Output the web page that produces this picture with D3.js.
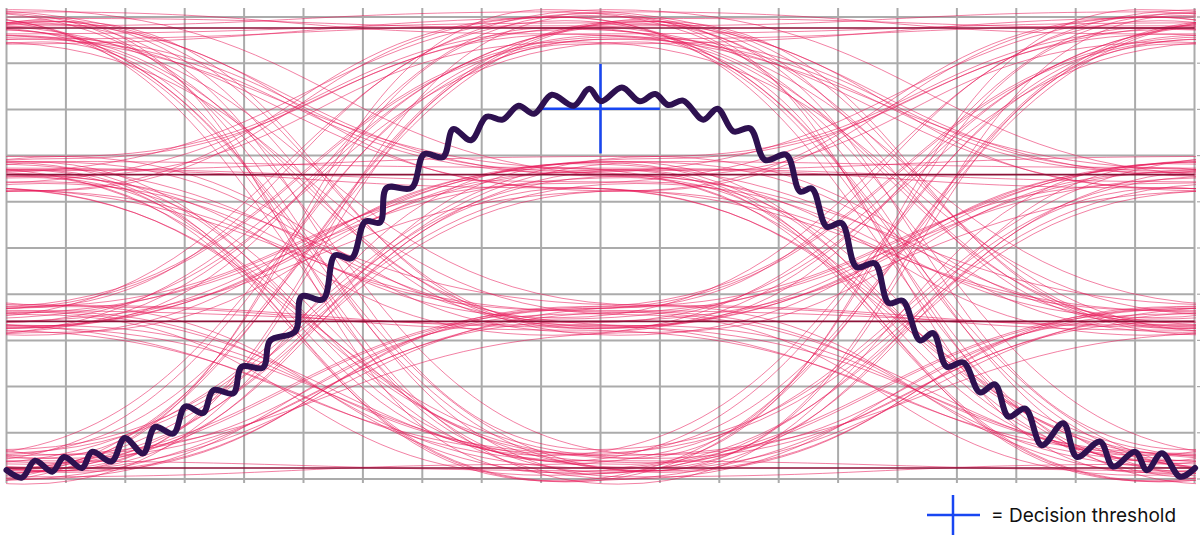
<!DOCTYPE html>
<html>
<head>
<meta charset="utf-8">
<script src="https://cdn.jsdelivr.net/npm/d3@7"></script>
<style>
  body { margin: 0; background: #fff; }
  svg { display: block; }
</style>
</head>
<body>
<svg id="eye-svg" width="1200" height="554"></svg>
<script>
// PAM4 amplitude levels (normalised) and the symbol stream that builds the eye
const levels = [-3, -1, 1, 3];
const symbols = ('3021331020321130023122031012332010230132213030120321120330210213' +
                 '23101302012332012301103203122013310221033012302131200312').split('').map(Number);
// per-symbol amplitude deviation (level units) and timing deviation (UI), read as typical spread
const ampJitter = [0.1, -0.04, 0.17, -0.15, 0.03, 0.22, -0.08, 0.07, -0.18, 0.13, 0.0, -0.22,
                   0.15, -0.06, 0.2, -0.12, 0.05, 0.25, -0.02, -0.19, 0.09, -0.1, 0.18];
const timeJitter = [0.03, -0.05, 0.08, -0.02, 0.06, -0.07, 0.01, 0.09, -0.04, 0.05,
                    -0.09, 0.02, -0.06, 0.07, -0.01, 0.04, -0.08, 0.1, -0.03];

// noisy signal trace (time in UI, amplitude in level units)
const waveT = [0.000, 0.026, 0.048, 0.077, 0.097, 0.127, 0.144, 0.177, 0.199, 0.230,
               0.250, 0.281, 0.301, 0.331, 0.348, 0.382, 0.396, 0.432, 0.444, 0.486,
               0.497, 0.533, 0.553, 0.581, 0.604, 0.629, 0.640, 0.682, 0.703, 0.735,
               0.752, 0.782, 0.808, 0.835, 0.862, 0.888, 0.918, 0.955, 0.981, 1.001,
               1.036, 1.066, 1.092, 1.114, 1.139, 1.173, 1.197, 1.224, 1.252, 1.277,
               1.313, 1.336, 1.356, 1.381, 1.406, 1.431, 1.462, 1.485, 1.509, 1.538,
               1.560, 1.583, 1.611, 1.639, 1.664, 1.687, 1.715, 1.743, 1.779, 1.802,
               1.841, 1.863, 1.900, 1.920, 1.945, 1.976, 2.001];
const waveV = [-3.03, -3.13, -2.90, -3.05, -2.85, -3.00, -2.78, -2.91, -2.59, -2.80,
               -2.44, -2.53, -2.16, -2.25, -1.94, -1.98, -1.62, -1.63, -1.26, -1.14,
               -0.66, -0.70, -0.10, -0.14, 0.36, 0.35, 0.82, 0.82, 1.28, 1.24,
               1.62, 1.47, 1.79, 1.75, 1.94, 1.83, 2.09, 1.94, 2.17, 2.00,
               2.19, 2.00, 2.10, 1.95, 2.01, 1.75, 1.90, 1.59, 1.63, 1.20,
               1.27, 0.77, 0.81, 0.29, 0.34, -0.26, -0.21, -0.75, -0.72, -1.26,
               -1.16, -1.62, -1.56, -1.97, -1.86, -2.30, -2.19, -2.69, -2.39, -2.85,
               -2.64, -2.98, -2.78, -3.03, -2.80, -3.12, -3.00];

// decision threshold marker
const thresholdT = 1.0;
const thresholdV = 1.9;
const legendLabel = '= Decision threshold';

(function() {

  let svg = d3.select('#eye-svg');

  let xScale = d3.scaleLinear().domain([0, 2]).range([6.5, 1194.5]);
  let yScale = d3.scaleLinear().domain([-3.15, 3.15]).range([479, 17]);
  let gridX = d3.scaleLinear().domain([0, 20]).range(xScale.range());
  let gridY = d3.scaleLinear().domain([0, 10]).range(yScale.range());

  svg.append('defs').append('clipPath')
    .attr('id', 'plot-clip')
    .append('rect')
      .attr('x', 6)
      .attr('y', 0)
      .attr('width', 1190)
      .attr('height', 492);

  // grid
  let grid = svg.append('g')
    .attr('stroke', '#ababab')
    .attr('stroke-width', 2);

  grid.selectAll('line.v')
    .data(d3.range(21))
    .join('line')
      .attr('class', 'v')
      .attr('x1', (d) => gridX(d))
      .attr('x2', (d) => gridX(d))
      .attr('y1', 8)
      .attr('y2', 483);

  grid.selectAll('line.h')
    .data(d3.range(11))
    .join('line')
      .attr('class', 'h')
      .attr('x1', xScale(0))
      .attr('x2', xScale(2))
      .attr('y1', (d) => gridY(d))
      .attr('y2', (d) => gridY(d));

  // little stubs on the right edge
  grid.selectAll('line.stub')
    .data(d3.range(11))
    .join('line')
      .attr('class', 'stub')
      .attr('stroke-width', 1.2)
      .attr('x1', 1197)
      .attr('x2', 1200)
      .attr('y1', (d) => gridY(d))
      .attr('y2', (d) => gridY(d));

  // the eye: one waveform sliced at every symbol and overlaid
  let samples = symbols.map((s, j) => ({
    t: j + timeJitter[j % timeJitter.length],
    v: levels[s] + ampJitter[j % ampJitter.length]
  }));

  let windows = [];
  for (let k = 1; k < samples.length - 3; k++) {
    windows.push(samples.slice(k - 1, k + 4).map((p) => ({ t: p.t - k, v: p.v })));
  }

  let traceLine = d3.line()
    .x((d) => xScale(d.t))
    .y((d) => yScale(d.v))
    .curve(d3.curveBumpX);

  let traces = svg.append('g')
    .attr('clip-path', 'url(#plot-clip)');

  traces.selectAll('path')
    .data(windows)
    .join('path')
      .attr('fill', 'none')
      .attr('stroke', '#e8195a')
      .attr('stroke-opacity', 0.55)
      .attr('stroke-width', 1)
      .attr('d', traceLine);

  // nominal levels
  traces.selectAll('line.level')
    .data(levels)
    .join('line')
      .attr('class', 'level')
      .attr('stroke', '#8c1238')
      .attr('stroke-width', 1.6)
      .attr('x1', xScale(0))
      .attr('x2', xScale(2))
      .attr('y1', (d) => yScale(d))
      .attr('y2', (d) => yScale(d));

  // decision threshold crosshair
  let cross = svg.append('g')
    .attr('stroke', '#1846f2')
    .attr('stroke-width', 2.5);

  cross.append('line')
    .attr('x1', xScale(thresholdT - 0.1))
    .attr('x2', xScale(thresholdT + 0.1))
    .attr('y1', yScale(thresholdV))
    .attr('y2', yScale(thresholdV));
  cross.append('line')
    .attr('x1', xScale(thresholdT))
    .attr('x2', xScale(thresholdT))
    .attr('y1', yScale(thresholdV + 0.61))
    .attr('y2', yScale(thresholdV - 0.61));

  // noisy signal
  let waveData = waveT.map((t, i) => ({ t: t, v: waveV[i] }));
  let waveLine = d3.line()
    .x((d) => xScale(d.t))
    .y((d) => yScale(d.v))
    .curve(d3.curveCatmullRom.alpha(0.5));

  svg.append('path')
    .datum(waveData)
    .attr('fill', 'none')
    .attr('stroke', '#2e1150')
    .attr('stroke-width', 6)
    .attr('stroke-linecap', 'round')
    .attr('stroke-linejoin', 'round')
    .attr('d', waveLine);

  // legend
  let legend = svg.append('g')
    .attr('transform', 'translate(953, 515)');
  legend.append('line')
    .attr('x1', -26).attr('x2', 27)
    .attr('y1', 0).attr('y2', 0)
    .attr('stroke', '#1846f2').attr('stroke-width', 2.5);
  legend.append('line')
    .attr('x1', 0).attr('x2', 0)
    .attr('y1', -20).attr('y2', 20)
    .attr('stroke', '#1846f2').attr('stroke-width', 2.5);
  legend.append('text')
    .attr('x', 38)
    .attr('y', 6.5)
    .attr('font-family', 'Inter, sans-serif')
    .attr('font-size', '19px')
    .attr('fill', '#111')
    .text(legendLabel);

})();
</script>
</body>
</html>
